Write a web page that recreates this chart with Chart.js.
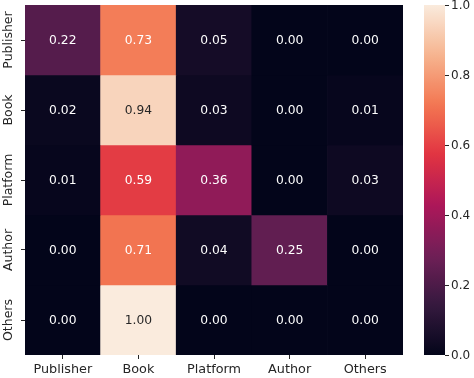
<!DOCTYPE html>
<html>
<head>
<meta charset="utf-8">
<script src="https://cdn.jsdelivr.net/npm/chart.js@4"></script>
<style>
html,body{margin:0;padding:0;background:#fff;}
#wrap{width:474px;height:378px;position:relative;}
</style>
</head>
<body>
<div id="wrap"><canvas id="c" width="474" height="378"></canvas></div>
<script>
// ---- data ----
const rowLabels = ['Publisher', 'Book', 'Platform', 'Author', 'Others'];
const colLabels = ['Publisher', 'Book', 'Platform', 'Author', 'Others'];
const publisherRow = [0.22, 0.73, 0.05, 0.00, 0.00];
const bookRow      = [0.02, 0.94, 0.03, 0.00, 0.01];
const platformRow  = [0.01, 0.59, 0.36, 0.00, 0.03];
const authorRow    = [0.00, 0.71, 0.04, 0.25, 0.00];
const othersRow    = [0.00, 1.00, 0.00, 0.00, 0.00];
const colorbarTicks = [0.0, 0.2, 0.4, 0.6, 0.8, 1.0];
const rows = [publisherRow, bookRow, platformRow, authorRow, othersRow];

const FONT = '"DejaVu Sans"';
const TXT = '#262626';

// ---- rocket colormap approximation ----
const rocketStops = [
  [0/7, [3,5,26]], [1/7, [53,25,62]], [2/7, [112,31,87]], [3/7, [173,23,89]],
  [4/7, [225,51,66]], [5/7, [243,118,81]], [6/7, [246,180,143]], [1, [250,235,221]]
];
function rocketRGB(t) {
  t = Math.max(0, Math.min(1, t));
  for (let i = 0; i < rocketStops.length - 1; i++) {
    const [a, ca] = rocketStops[i], [b, cb] = rocketStops[i + 1];
    if (t <= b) {
      const f = (t - a) / (b - a);
      return ca.map((v, k) => Math.round(v + (cb[k] - v) * f));
    }
  }
  return rocketStops[rocketStops.length - 1][1];
}
function rocket(t) { const c = rocketRGB(t); return `rgb(${c[0]},${c[1]},${c[2]})`; }
function lum(c) {
  const l = c.map(v => { v /= 255; return v <= 0.03928 ? v / 12.92 : Math.pow((v + 0.055) / 1.055, 2.4); });
  return 0.2126 * l[0] + 0.7152 * l[1] + 0.0722 * l[2];
}

const datasets = rows.map((vals, r) => ({
  label: rowLabels[r],
  data: vals.map(() => [r, r + 1]),
  values: vals,
  backgroundColor: vals.map(v => rocket(v)),
  borderWidth: 0,
  categoryPercentage: 1.0,
  barPercentage: 1.0,
  grouped: false
}));

const annotPlugin = {
  id: 'annot',
  afterDatasetsDraw(chart) {
    const ctx = chart.ctx;
    ctx.save();
    ctx.font = `12.3px ${FONT}`;
    ctx.textAlign = 'center';
    ctx.textBaseline = 'middle';
    chart.data.datasets.forEach((ds, di) => {
      const meta = chart.getDatasetMeta(di);
      meta.data.forEach((el, i) => {
        const v = ds.values[i];
        const c = rocketRGB(v);
        ctx.fillStyle = lum(c) > 0.408 ? TXT : '#ffffff';
        ctx.fillText(v.toFixed(2), el.x, (el.y + el.base) / 2 + 0.5);
      });
    });
    ctx.restore();
  }
};

const yLabelPlugin = {
  id: 'ylabels',
  afterDraw(chart) {
    const ctx = chart.ctx;
    const ys = chart.scales.y;
    ctx.save();
    ctx.font = `12.5px ${FONT}`;
    ctx.fillStyle = TXT;
    ctx.textAlign = 'center';
    ctx.textBaseline = 'middle';
    ys.ticks.forEach((t, i) => {
      const py = ys.getPixelForValue(t.value);
      ctx.save();
      ctx.translate(8.5, py);
      ctx.rotate(-Math.PI / 2);
      ctx.fillText(rowLabels[Math.floor(t.value)], 0, 0);
      ctx.restore();
    });
    ctx.restore();
  }
};

const colorbarPlugin = {
  id: 'colorbar',
  afterDraw(chart) {
    const ctx = chart.ctx;
    const top = chart.chartArea.top, bottom = chart.chartArea.bottom;
    const x0 = 424, x1 = 445;
    const g = ctx.createLinearGradient(0, bottom, 0, top);
    for (let i = 0; i <= 40; i++) g.addColorStop(i / 40, rocket(i / 40));
    ctx.save();
    ctx.fillStyle = g;
    ctx.fillRect(x0, top, x1 - x0, bottom - top);
    ctx.strokeStyle = TXT;
    ctx.lineWidth = 1;
    ctx.fillStyle = TXT;
    ctx.font = `12px ${FONT}`;
    ctx.textAlign = 'left';
    ctx.textBaseline = 'middle';
    colorbarTicks.forEach(t => {
      const py = bottom - t * (bottom - top);
      ctx.beginPath();
      ctx.moveTo(x1, Math.round(py) + 0.5);
      ctx.lineTo(x1 + 4, Math.round(py) + 0.5);
      ctx.stroke();
      ctx.fillText(t.toFixed(1), x1 + 6, py + 0.5);
    });
    ctx.restore();
  }
};

new Chart(document.getElementById('c'), {
  type: 'bar',
  data: { labels: colLabels, datasets },
  plugins: [annotPlugin, yLabelPlugin, colorbarPlugin],
  options: {
    responsive: false,
    animation: false,
    layout: { padding: { top: 5, right: 71, left: 0, bottom: 0 } },
    plugins: { legend: { display: false }, tooltip: { enabled: false } },
    scales: {
      x: {
        type: 'category',
        offset: true,
        grid: { display: true, drawOnChartArea: false, drawTicks: true, tickLength: 4, offset: false, color: TXT },
        border: { display: false },
        ticks: { color: TXT, font: { family: 'DejaVu Sans', size: 12.8 }, padding: 3, maxRotation: 0, minRotation: 0 },
        afterFit(s) { s.height = 23; }
      },
      y: {
        type: 'linear',
        min: 0, max: 5, reverse: true,
        grid: { display: true, drawOnChartArea: false, drawTicks: true, tickLength: 4, color: TXT },
        border: { display: false },
        afterBuildTicks(s) { s.ticks = [0.5, 1.5, 2.5, 3.5, 4.5].map(v => ({ value: v })); },
        ticks: { display: false },
        afterFit(s) { s.width = 25; }
      }
    }
  }
});
</script>
</body>
</html>
